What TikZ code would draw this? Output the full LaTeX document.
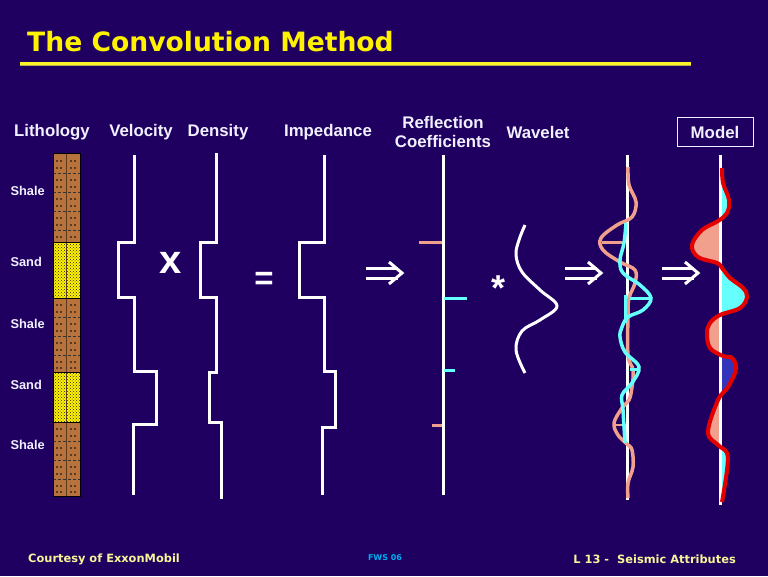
\documentclass[tikz,border=0pt]{standalone}
\usepackage{fontspec}
\setmainfont{Liberation Sans}
\newfontfamily\verdanafont{DejaVu Sans}
\usetikzlibrary{patterns}
\definecolor{bgblue}{RGB}{31,0,96}
\definecolor{shale}{RGB}{184,115,60}
\definecolor{salmon}{RGB}{240,160,140}
\definecolor{tracecyan}{RGB}{102,255,255}
\definecolor{lobeblue}{RGB}{51,51,187}
\definecolor{labelwhite}{RGB}{240,240,255}
\newcommand{\modelcurve}{(722,168) (723,183) (729,200) (727,213) (718,221) (702,230) (692,245) (698,257) (717,263) (722,268) (730,278) (743,288) (747,297) (740,308) (720,315) (710,323) (707,333) (710,348) (723,356) (732,358) (736,369) (728,387) (718,400) (708,432) (718,445) (727,453) (727,470) (722,502)}
\tikzset{
	collabel/.style={text=labelwhite, font=\bfseries\fontsize{16.8}{19.5}\selectfont, align=center},
	rocklabel/.style={text=labelwhite, font=\bfseries\fontsize{12.8}{14}\selectfont, anchor=west},
	footlabel/.style={text=labelwhite!60!yellow, font=\verdanafont\bfseries\fontsize{11.4}{14}\selectfont},
	oplabel/.style={text=white, font=\bfseries\fontsize{36}{38}\selectfont},
	logline/.style={white, line width=3pt},
	trace/.style={line width=3.5pt, smooth, tension=0.6},
	implyarrow/.pic={
		\draw[white, line width=3pt] (-18,-5) -- (14,-5) (-18,5) -- (14,5);
		\draw[white, line width=3pt] (5,-11) -- (18,0) -- (5,11);
	}
}
\begin{document}
\begin{tikzpicture}[x=1pt, y=-1pt]
	\fill[bgblue] (0,0) rectangle (768,576);
	\useasboundingbox (0,0) rectangle (768,576);

	% title
	\node (title) [anchor=west, inner sep=0pt, text=yellow, font=\verdanafont\bfseries\fontsize{26.6}{32}\selectfont] at (27,42) {The Convolution Method};
	\draw[black!10!olive!60, line width=4.5pt] (20,64) -- (691,64);
	\draw[yellow!85!white, line width=3pt] (20,63) -- (691,63);

	% column heads
	\node (lith) [collabel] at (52,132) {Lithology};
	\node (velo) [collabel] at (141,132) {Velocity};
	\node (dens) [collabel] at (218,132) {Density};
	\node (impe) [collabel] at (328,132) {Impedance};
	\node (refl) [collabel] at (443,132) {Reflection\\Coefficients};
	\node (wave) [collabel] at (538,132) {Wavelet};
	\node (model) [collabel, draw=labelwhite, line width=1pt, fill=bgblue, minimum width=76pt, minimum height=29pt, inner sep=0pt] at (715,132) {Model};

	% lithology column
	\fill[shale] (53,153) rectangle (80,496);
	\fill[yellow] (53,242) rectangle (80,298);
	\fill[yellow] (53,372) rectangle (80,422);
	\fill[pattern=crosshatch dots, pattern color=black!85] (53,242) rectangle (80,298);
	\fill[pattern=crosshatch dots, pattern color=black!85] (53,372) rectangle (80,422);
	\foreach \y in {173,192,211,230,317,336,355,441,460,479}
		\draw[black!80, line width=1pt, dash pattern=on 3pt off 2pt] (53,\y) -- (80,\y);
	\foreach \y in {160,167,179,186,198,205,217,224,236,304,311,323,330,342,349,361,367,428,435,447,454,466,473,485,491}
		\foreach \x in {56,60,70,74}
			\fill[black!50!shale] (\x,\y) rectangle +(2.4,1.6);
	\draw[black!50!shale, line width=1pt] (66,153) -- (66,496);
	\draw[black, line width=1pt] (53,153) rectangle (80,496);
	\draw[black, line width=1pt] (53,242) -- (80,242) (53,298) -- (80,298) (53,372) -- (80,372) (53,422) -- (80,422);

	\node (shale1) [rocklabel] at (7,191) {Shale};
	\node (sand1) [rocklabel] at (7,262) {Sand};
	\node (shale2) [rocklabel] at (7,324) {Shale};
	\node (sand2) [rocklabel] at (7,385) {Sand};
	\node (shale3) [rocklabel] at (7,445) {Shale};

	% logs
	\draw[logline] (134,155) -- (134,242) -- (118,242) -- (118,297) -- (134,297) -- (134,371) -- (156,371) -- (156,424) -- (133,424) -- (133,495);
	\draw[logline] (216,153) -- (216,242) -- (200,242) -- (200,297) -- (216,297) -- (216,372) -- (209,372) -- (209,422) -- (221,422) -- (221,499);
	\draw[logline] (324,155) -- (324,242) -- (299,242) -- (299,297) -- (324,297) -- (324,371) -- (335,371) -- (335,427) -- (322,427) -- (322,495);

	% reflection coefficients
	\draw[logline] (443,155) -- (443,495);
	\draw[salmon, line width=3pt] (419,242) -- (442,242);
	\draw[tracecyan, line width=3pt] (444,298) -- (467,298);
	\draw[tracecyan, line width=3pt] (444,370) -- (455,370);
	\draw[salmon, line width=3pt] (432,425) -- (442,425);

	% operators
	\node (times) [oplabel, font=\bfseries\fontsize{40}{42}\selectfont] at (171,263) {x};
	\node (equal) [oplabel, font=\bfseries\fontsize{33}{35}\selectfont] at (264,281) {=};
	\node (star) [oplabel] at (498,288) {*};
	\pic at (384,273) {implyarrow};
	\pic at (583,273) {implyarrow};
	\pic at (680,273) {implyarrow};

	% wavelet
	\draw[logline, smooth, tension=0.6] plot coordinates {(525,225) (519,240) (516,255) (522,272) (540,290) (557,306) (540,320) (522,331) (516,350) (525,373)};

	% convolved traces
	\draw[logline] (627,155) -- (627,500);
	\draw[salmon, trace] plot coordinates {(628,167) (629,185) (636,202) (632,217) (617,225) (601,238) (603,250) (620,262) (635,270) (635,283) (629,298) (628,315) (628,355) (633,370) (632,387) (629,400) (622,408) (614,423) (618,435) (627,444) (632,450) (633,467) (628,483) (628,498)};
	\draw[salmon, line width=3pt] (602,242) -- (624,242);
	\draw[salmon, line width=2.5pt] (615,425) -- (626,425);
	\draw[tracecyan, trace] plot coordinates {(626,223) (624,243) (620,260) (623,273) (640,285) (651,298) (643,310) (628,317) (622,327) (620,337) (625,352) (639,367) (632,383) (622,395) (623,410) (625,443)};
	\draw[tracecyan, line width=3pt] (630,298) -- (651,298);
	\draw[tracecyan, line width=3pt] (630,369) -- (639,369);
	\draw[tracecyan, line width=3pt] (625,295) -- (625,323);

	% model trace
	\foreach \ya/\yb/\xe/\col in {168/221/760/tracecyan, 221/265/720/salmon, 265/315/760/tracecyan, 315/356/720/salmon, 356/398/760/lobeblue, 398/446/720/salmon, 446/490/760/tracecyan}{
		\begin{scope}
			\clip (\xe-70,\ya) rectangle (\xe,\yb);
			\fill[\col] plot[smooth, tension=0.6] coordinates {\modelcurve} -- (720,502) -- (720,168) -- cycle;
		\end{scope}
	}
	\draw[logline] (720,155) -- (720,505);
	\draw[red!90!black, line width=4pt, smooth, tension=0.6] plot coordinates {\modelcurve};

	% footer
	\node (court) [footlabel, anchor=west, inner sep=0pt] at (28,559) {Courtesy of ExxonMobil};
	\node (fws) [text=cyan, font=\verdanafont\bfseries\fontsize{8}{9}\selectfont] at (385,558) {FWS 06};
	\node (lect) [footlabel, anchor=east, inner sep=0pt] at (736,559) {L 13 -\ \ Seismic Attributes};
\end{tikzpicture}
\end{document}
